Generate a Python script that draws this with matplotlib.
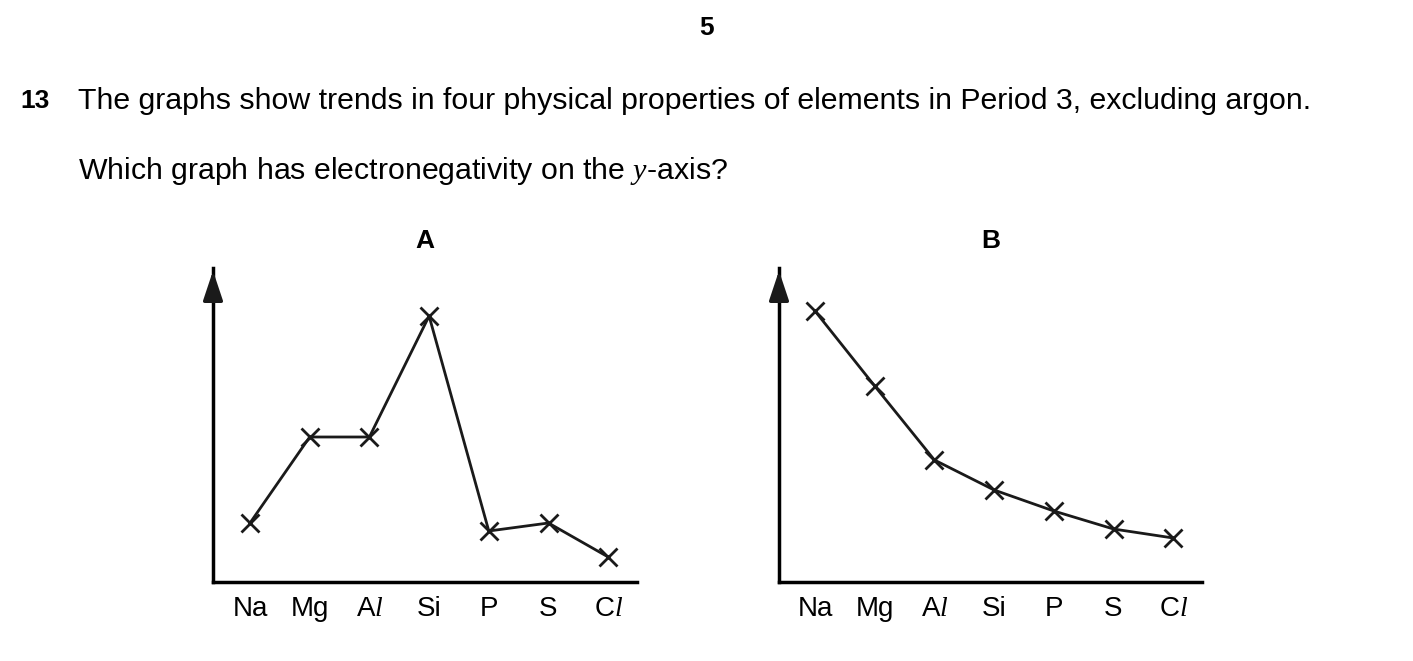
import matplotlib
matplotlib.use("Agg")
import matplotlib.pyplot as plt

elements = ["Na", "Mg", r"A$\it{l}$", "Si", "P", "S", r"C$\it{l}$"]
graph_a = [59, 145, 145, 266, 51, 59, 25]
graph_b = [271, 196, 122, 92, 71, 53, 44]

W, H = 1413, 661
fig = plt.figure(figsize=(W/100, H/100), dpi=100)
plt.rcParams['font.family'] = ['Liberation Sans', 'DejaVu Sans']
plt.rcParams['mathtext.fontset'] = 'custom'
plt.rcParams['mathtext.it'] = 'Liberation Serif:italic'

fig.text(707/W, 1-28/H, "5", ha="center", va="center", fontsize=19, fontweight="bold")
fig.text(20/W, 1-101/H, "13", ha="left", va="center", fontsize=19, fontweight="bold")
fig.text(78/W, 1-101/H, "The graphs show trends in four physical properties of elements in Period 3, excluding argon.",
         ha="left", va="center", fontsize=21.8)
fig.text(78/W, 1-171/H, "Which graph has electronegativity on the $\\it{y}$-axis?",
         ha="left", va="center", fontsize=21.8)

def panel(left, right, first_x, title, vals):
    bottom, top = 582, 268
    ax = fig.add_axes([left/W, 1-bottom/H, (right-left)/W, (bottom-top)/H])
    sp = 59.7
    ax.set_xlim(-(first_x-left)/sp, -(first_x-left)/sp + (right-left)/sp)
    ax.set_ylim(0, bottom-top)
    ax.plot(range(len(vals)), vals, color="#1a1a1a", lw=2, marker="x", ms=13, mew=2)
    for s in ["top", "right"]:
        ax.spines[s].set_visible(False)
    ax.spines["left"].set_linewidth(2.5)
    ax.spines["bottom"].set_linewidth(2.5)
    ax.set_xticks(range(len(vals)))
    ax.set_xticklabels(elements, fontsize=20)
    ax.tick_params(length=0, pad=10)
    ax.set_yticks([])
    ax.annotate("", xy=(0, 1.0), xycoords="axes fraction", xytext=(0, 0.9),
                arrowprops=dict(arrowstyle="-|>,head_length=0.9,head_width=0.3", color="#1a1a1a", lw=2.5, mutation_scale=20))
    fig.text((left+right)/2/W, 1-241/H, title, ha="center", va="center", fontsize=19, fontweight="bold")

panel(213, 637, 250, "A", graph_a)
panel(779, 1202, 815, "B", graph_b)

fig.savefig("out.png", dpi=100)
